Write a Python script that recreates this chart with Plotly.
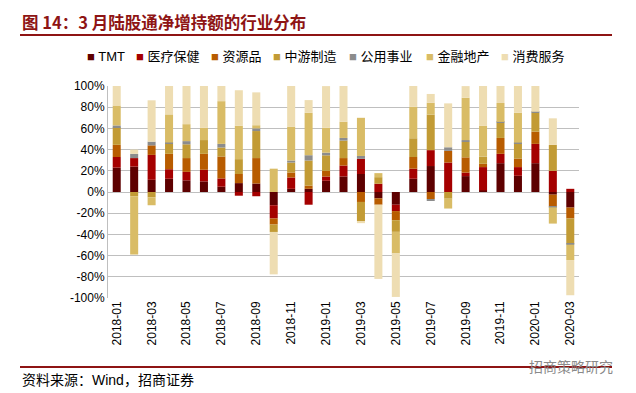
import plotly.graph_objects as go

months = ["2018-01", "2018-02", "2018-03", "2018-04", "2018-05", "2018-06", "2018-07",
          "2018-08", "2018-09", "2018-10", "2018-11", "2018-12", "2019-01", "2019-02",
          "2019-03", "2019-04", "2019-05", "2019-06", "2019-07", "2019-08", "2019-09",
          "2019-10", "2019-11", "2019-12", "2020-01", "2020-02", "2020-03"]

tmt = [23, 24, 11.5, 12.5, 11, 10, 5, 8.4, 8, -12.5, 3, 3, 10.6, 14.7, 17, -6, -12,
       12.5, 24.5, 0, 15, 1.5, 27.2, 15.3, 27.2, -2.5, -14.7]
health = [10, 8, 23.5, 9, 8, 11, 7.8, -3.5, -4, -12.5, 10.7, -12, 4, 10.3, 14.3, 7.8, -6,
          9.5, 15, 27.8, 3.3, 22, 8.8, 8.2, 18.2, 20, 3]
resource = [11.5, 0, 9, 14.5, 13, 15, 20.7, 8.6, 24, -5.7, 4.7, 3, 5.3, 7, -9.4, -6, -8.6,
            11, -6.6, 11, 14.4, 3.1, 15, 8.1, 11.6, -11.3, -10.3]
midstream = [16.5, -4, -5, 9.5, 13, 13, 8.5, 14, 25.5, -7, 9.4, 23.7, 14.7, 16.5, -18.2,
             6.2, -11, 17.7, 33.5, -6.3, 14.7, 6.8, 14.4, 14.4, 17.7, 24.5, -23.8]
utility = [1.8, 4, 3.5, 1.2, 3, 0, 3.4, 0, 2.5, 0, 1.9, 5, 2.5, 2.5, 2.7, 0, 0, 0, -1.2,
           3.4, 1.5, 0, 0.7, 0.6, 1, -0.7, -0.9]
finance = [18.8, -55, -7.5, 26.5, 16, 11.7, 40.3, 31.5, 3, 22, 32, 40, 23.5, 15.3, 36, 3.8,
           -20.4, 29.7, 11.2, -9.3, 40, 29, 17.9, 28.1, 0, -15.3, -14.5]
consumer = [18.4, 4, 39, 26.8, 36, 39.3, 14.3, 33.5, 31, -40, 38.4, 12, 39.3, 33.7, -1.8,
            -70, -41, 19.6, 8.3, 41.4, 11, 37.7, 16.0, 25.3, 24.4, 25, -33.2]

series_names = ["TMT", "医疗保健", "资源品", "中游制造", "公用事业", "金融地产", "消费服务"]
series_values = [tmt, health, resource, midstream, utility, finance, consumer]
colors = ["#5E0000", "#A50000", "#B85C00", "#C29B35", "#8C8C8C", "#D9BC66", "#EEDDB2"]

y_ticks = [100, 80, 60, 40, 20, 0, -20, -40, -60, -80, -100]
y_labels = [f"{v}%" for v in y_ticks]
x_ticks = months[::2]

fig = go.Figure()
for name, vals, col in zip(series_names, series_values, colors):
    fig.add_trace(go.Bar(x=months, y=vals, name=name, showlegend=False,
                         marker=dict(color=col, line=dict(width=0))))

W, H = 636, 393
L, R, T, B = 108, 57, 86, 95
pw, ph = W - L - R, H - T - B

def px(x):
    return (x - L) / pw

def py(y):
    return (H - B - y) / ph

dark_red = "#8E1414"

# legend built as text entries (left x of each square, in pixels)
legend_x = [85, 134, 209, 271, 347, 424, 499]
annotations = []
for name, col, lx in zip(series_names, colors, legend_x):
    annotations.append(dict(
        text=f"<span style='color:{col}'>■</span> {name}", xref="paper", yref="paper",
        x=px(lx), y=py(57), xanchor="left", yanchor="middle", showarrow=False,
        font=dict(size=13, color="#000000", family="Liberation Sans, Noto Sans CJK SC")))

annotations += [
    dict(text="<b>图 14：3 月陆股通净增持额的行业分布</b>", xref="paper", yref="paper",
         x=px(20), y=py(22), xanchor="left", yanchor="middle", showarrow=False,
         font=dict(size=16.5, color=dark_red, family="Noto Sans CJK SC, Liberation Sans")),
    dict(text="资料来源：Wind，招商证券", xref="paper", yref="paper",
         x=px(20), y=py(380), xanchor="left", yanchor="middle", showarrow=False,
         font=dict(size=14, color="#000000", family="Liberation Sans, Noto Sans CJK SC")),
    dict(text="招商策略研究", xref="paper", yref="paper",
         x=px(615), y=py(366), xanchor="right", yanchor="middle", showarrow=False,
         font=dict(size=14, color="#8A8A8A", family="Noto Sans CJK SC")),
]

fig.update_layout(
    width=W, height=H,
    margin=dict(l=L, r=R, t=T, b=B, autoexpand=False),
    barmode="relative",
    bargap=0.54,
    plot_bgcolor="white",
    paper_bgcolor="white",
    font=dict(family="Liberation Sans, Arial, Noto Sans CJK SC", size=12, color="#000000"),
    showlegend=False,
    xaxis=dict(type="category", tickmode="array", tickvals=x_ticks, ticktext=x_ticks,
               tickangle=-90, showgrid=False, showline=False, ticks="",
               tickfont=dict(size=12, family="Liberation Sans, Arial")),
    yaxis=dict(range=[-100, 100], tickmode="array", tickvals=y_ticks, ticktext=y_labels,
               showgrid=True, gridcolor="#BFBFBF", gridwidth=1,
               zeroline=True, zerolinecolor="#BFBFBF", zerolinewidth=1,
               showline=True, linecolor="#BFBFBF", linewidth=1,
               tickfont=dict(size=12, family="Liberation Sans, Arial")),
    shapes=[
        dict(type="line", xref="paper", yref="paper", x0=px(20), x1=px(612),
             y0=py(35), y1=py(35), line=dict(color=dark_red, width=2)),
        dict(type="line", xref="paper", yref="paper", x0=px(20), x1=px(612),
             y0=py(367), y1=py(367), line=dict(color=dark_red, width=2)),
    ],
    annotations=annotations,
)

fig.write_html("out.html", config={"displayModeBar": False},
               post_script="document.body.style.margin='0';")
